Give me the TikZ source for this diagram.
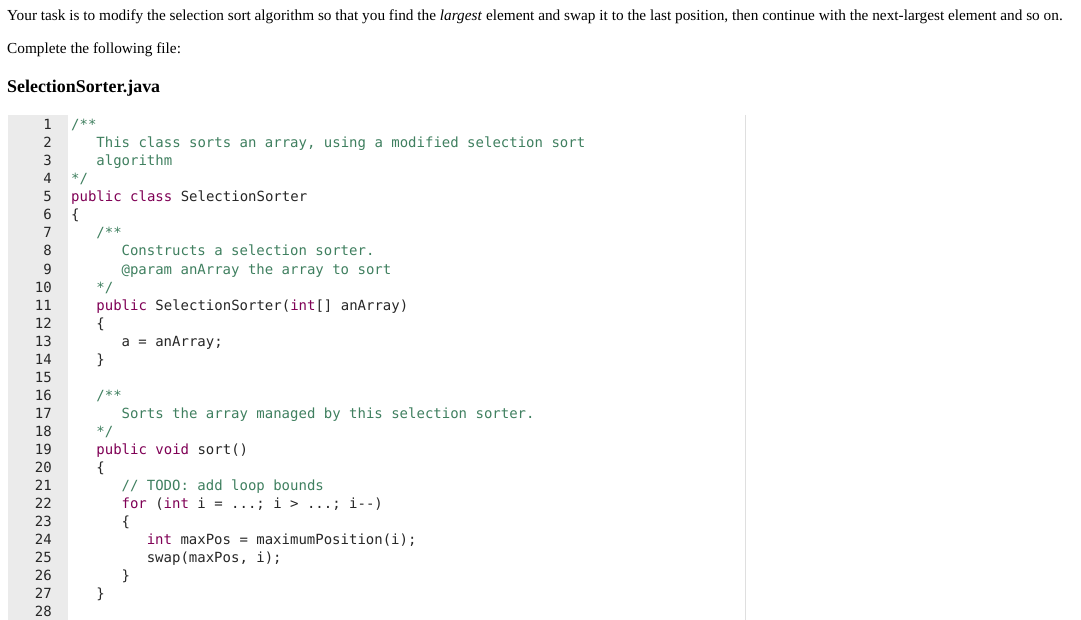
\documentclass[tikz,border=0pt]{standalone}
\usepackage{fontspec}
\setmainfont{Liberation Serif}
\newfontfamily\codefont{DejaVu Sans Mono}
\definecolor{kwc}{HTML}{7F0055}
\definecolor{cmc}{HTML}{3F7F5F}
\definecolor{gut}{HTML}{EBEBEB}
\newcommand{\kw}[1]{\textcolor{kwc}{#1}}
\newcommand{\cmt}[1]{\textcolor{cmc}{#1}}
\begin{document}
\begin{tikzpicture}[x=1pt,y=-1pt,
  txt/.style={anchor=base west,inner sep=0pt,font=\fontsize{15.3}{17}\selectfont},
  code/.style={anchor=base west,inner sep=0pt,font=\codefont\fontsize{14}{15}\selectfont,text=black!85},
  lnum/.style={anchor=base east,inner sep=0pt,font=\codefont\fontsize{14}{15}\selectfont,text=black!85}]
\useasboundingbox (0,0) rectangle (1081,620);
\node[txt] (t1) at (7,21) {Your task is to modify the selection sort algorithm so that you find the \textit{largest} element and swap it to the last position, then continue with the next-largest element and so on.};
\node[txt] (t2) at (7,54) {Complete the following file:};
\node[txt,font=\fontsize{17.9}{19}\selectfont\bfseries] (t3) at (7,93) {SelectionSorter.java};
\fill[gut] (8,115) rectangle (68,620);
\draw[gray!25] (745,115) -- (745,620);
\foreach \n in {1,...,28} { \node[lnum] (n\n) at (52,{130+18*(\n-1)}) {\n}; }
\def\L#1#2#3{\node[code] (c#1) at ({71+8.4*#2},{130+18*(#1-1)}) {#3};}
\L{1}{0}{\cmt{/**}}
\L{2}{3}{\cmt{This class sorts an array, using a modified selection sort}}
\L{3}{3}{\cmt{algorithm}}
\L{4}{0}{\cmt{*/}}
\L{5}{0}{\kw{public} \kw{class} SelectionSorter}
\L{6}{0}{\{}
\L{7}{3}{\cmt{/**}}
\L{8}{6}{\cmt{Constructs a selection sorter.}}
\L{9}{6}{\cmt{@param anArray the array to sort}}
\L{10}{3}{\cmt{*/}}
\L{11}{3}{\kw{public} SelectionSorter(\kw{int}[] anArray)}
\L{12}{3}{\{}
\L{13}{6}{a = anArray;}
\L{14}{3}{\}}
\L{16}{3}{\cmt{/**}}
\L{17}{6}{\cmt{Sorts the array managed by this selection sorter.}}
\L{18}{3}{\cmt{*/}}
\L{19}{3}{\kw{public} \kw{void} sort()}
\L{20}{3}{\{}
\L{21}{6}{\cmt{// TODO: add loop bounds}}
\L{22}{6}{\kw{for} (\kw{int} i = ...; i > ...; i-{}-)}
\L{23}{6}{\{}
\L{24}{9}{\kw{int} maxPos = maximumPosition(i);}
\L{25}{9}{swap(maxPos, i);}
\L{26}{6}{\}}
\L{27}{3}{\}}
\end{tikzpicture}
\end{document}
